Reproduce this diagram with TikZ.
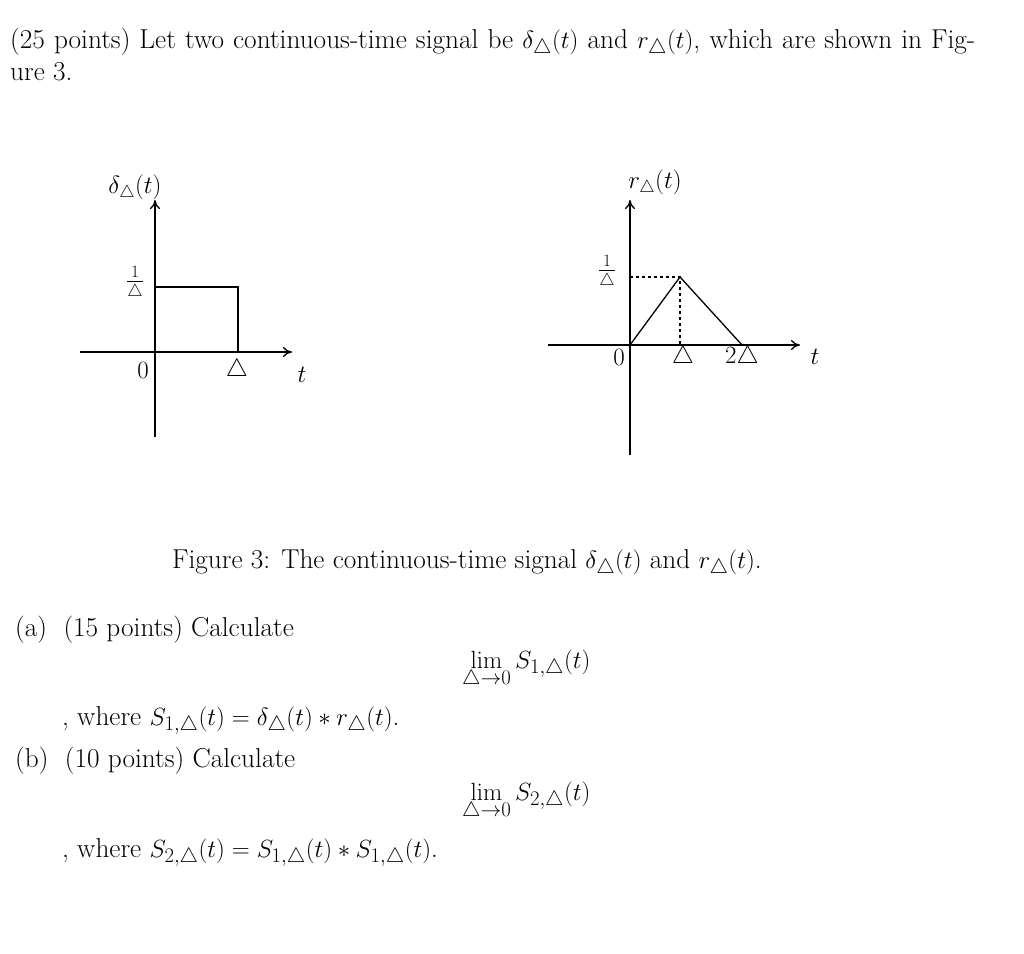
\documentclass[tikz,border=0pt]{standalone}
\usetikzlibrary{arrows.meta}
\begin{document}
\begin{tikzpicture}[x=1pt,y=-1pt,
  txt/.style={anchor=base west,inner sep=0pt,font=\fontsize{27.3}{33}\selectfont},
  hand/.style={inner sep=0pt,font=\fontsize{26}{30}\selectfont},
  ax/.style={line width=1.3pt,-{To[length=9pt,width=10pt]}},
  sig/.style={line width=1.3pt}]
\useasboundingbox (0,0) rectangle (1024,953);
\node[txt] (l1) at (10,48) {\makebox[965pt][s]{(25 points) Let two continuous-time signal be $\delta_\triangle(t)$ and $r_\triangle(t)$, which are shown in Fig-}};
\node[txt] (l2) at (10,80) {ure 3.};
% left plot
\coordinate (ltop) at (155,200);
\coordinate (lbot) at (155,437);
\coordinate (lleft) at (80,352);
\coordinate (lright) at (292,352);
\draw[ax] (lbot) -- (ltop);
\draw[ax] (lleft) -- (lright);
\coordinate (r1) at (155,287); \coordinate (r2) at (238,287); \coordinate (r3) at (238,352);
\draw[sig] (r1) -- (r2) -- (r3);
\node[hand] (ld) at (135,188) {$\delta_\triangle(t)$};
\node[hand] (lh) at (135,283) {$\frac{1}{\triangle}$};
\node[hand] (l0) at (143,370) {$0$};
\node[hand] (lD) at (237,370) {$\triangle$};
\node[hand] (lt) at (302,375) {$t$};
% right plot
\coordinate (rtop) at (630,200);
\coordinate (rbot) at (630,455);
\coordinate (rleft) at (548,345);
\coordinate (rright) at (800,345);
\draw[ax] (rbot) -- (rtop);
\draw[ax] (rleft) -- (rright);
\coordinate (ro) at (630,345); \coordinate (pk) at (680,277); \coordinate (re) at (742,345);
\coordinate (ry) at (630,277); \coordinate (rx) at (680,345);
\draw[sig] (ro) -- (pk) -- (re);
\draw[line width=1.1pt,dashed] (ry) -- (pk) -- (rx);
\node[hand] (rr) at (655,183) {$r_\triangle(t)$};
\node[hand] (rh) at (607,272) {$\frac{1}{\triangle}$};
\node[hand] (r0) at (619,357) {$0$};
\node[hand] (rD) at (683,357) {$\triangle$};
\node[hand] (r2D) at (742,357) {$2\triangle$};
\node[hand] (rt) at (815,357) {$t$};
% caption
\node[txt] (cap) at (172,568) {Figure 3: The continuous-time signal $\delta_\triangle(t)$ and $r_\triangle(t)$.};
\node[txt] (a) at (15,636) {(a)\ \ (15 points) Calculate};
\node[txt] (la) at (462,668) {$\displaystyle\lim_{\triangle\to0} S_{1,\triangle}(t)$};
\node[txt] (wa) at (62,725) {, where $S_{1,\triangle}(t)=\delta_\triangle(t)*r_\triangle(t)$.};
\node[txt] (b) at (15,767) {(b)\ \ (10 points) Calculate};
\node[txt] (lb) at (462,800) {$\displaystyle\lim_{\triangle\to0} S_{2,\triangle}(t)$};
\node[txt] (wb) at (62,857) {, where $S_{2,\triangle}(t)=S_{1,\triangle}(t)*S_{1,\triangle}(t)$.};
\end{tikzpicture}
\end{document}
